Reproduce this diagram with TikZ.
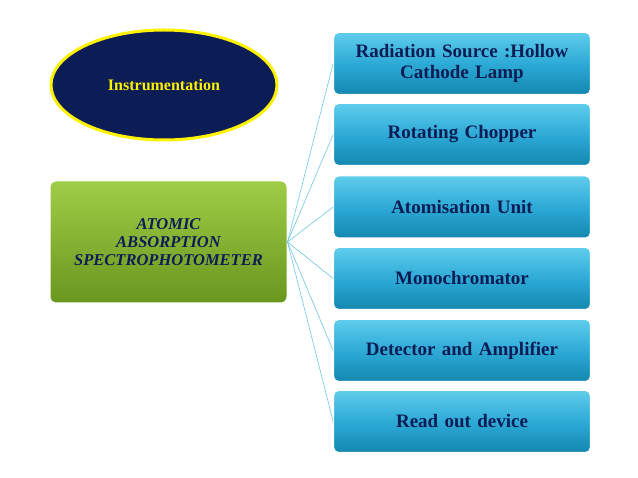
\documentclass[tikz,border=0pt]{standalone}
\usepackage{fontspec}
\setmainfont{Liberation Serif}
\usetikzlibrary{shapes.geometric}
\definecolor{navy}{RGB}{12,28,84}
\definecolor{lineblue}{RGB}{110,200,225}
\definecolor{stagetop}{RGB}{95,205,235}
\definecolor{stagemid}{RGB}{45,170,215}
\definecolor{stagebot}{RGB}{20,135,175}
\definecolor{greentop}{RGB}{160,205,70}
\definecolor{greenbot}{RGB}{105,150,30}
\tikzset{
	stagebox/.style={draw=white,line width=1pt,rounded corners=5pt,minimum width=252pt,minimum height=62pt,
		top color=stagetop,bottom color=stagebot,middle color=stagemid,
		text=navy,font=\fontsize{19}{21}\selectfont\bfseries,align=center,text width=250pt},
	link/.style={draw=lineblue,line width=0.6pt}
}
\begin{document}
\begin{tikzpicture}[x=1pt,y=-1pt]
\useasboundingbox (0,0) rectangle (638,478);

% title ellipse
\node[ellipse,draw=yellow,line width=3pt,fill=navy,minimum width=226pt,minimum height=110pt,
	text=yellow,font=\fontsize{16}{17}\selectfont\bfseries] (title) at (164,85) {Instrumentation};

% main block
\node[draw=white,line width=1pt,rounded corners=6pt,minimum width=237pt,minimum height=122pt,
	top color=greentop,bottom color=greenbot,
	text=navy,font=\fontsize{16.5}{18}\selectfont\bfseries\itshape,align=center] (aas) at (168.5,242)
	{ATOMIC\\ABSORPTION\\SPECTROPHOTOMETER};

% stages
\node[stagebox] (source) at (462,63.5) {Radiation Source :Hollow\\Cathode Lamp};
\node[stagebox] (chopper) at (462,134.5) {Rotating Chopper};
\node[stagebox] (atom) at (462,207) {Atomisation Unit};
\node[stagebox] (mono) at (462,278.5) {Monochromator};
\node[stagebox] (detect) at (462,350.5) {Detector and Amplifier};
\node[stagebox] (readout) at (462,421.5) {Read out device};

\foreach \s in {source,chopper,atom,mono,detect,readout}
	\draw[link] (aas.east) -- (\s.west);

\end{tikzpicture}
\end{document}
